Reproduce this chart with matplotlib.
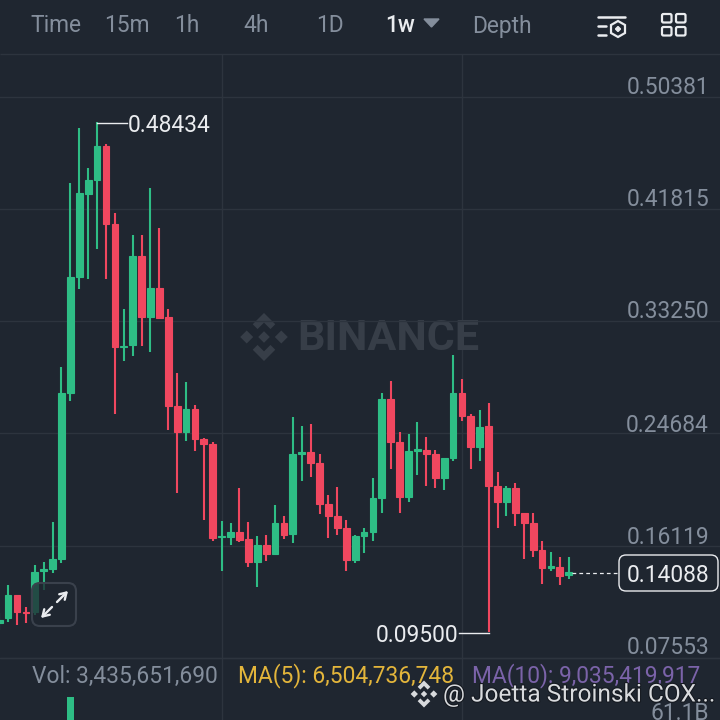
import matplotlib
matplotlib.use("Agg")
import matplotlib.pyplot as plt
from matplotlib.patches import FancyBboxPatch, Polygon
import matplotlib.patheffects as pe
import numpy as np

plt.rcParams['font.family'] = ['Roboto', 'DejaVu Sans']

open_ = [.1022,.1060,.1236,.1106,.1106,.1419,.1434,.1511,.2777,.3662,.4296,.4402,.4662,.4067,.3128,.3144,.3823,.3357,.3578,
         .3357,.2678,.2480,.2655,.2426,.2388,.1675,.1679,.1717,.1663,.1488,.1617,.1549,.1786,.1702,.2312,.2327,.2243,.1930,
         .1839,.1747,.1503,.1686,.1717,.1976,.2732,.2403,.1984,.2335,.2342,.2312,.2129,.2281,.2777,.2602,.2365,.2526,.2067,
         .1946,.2052,.1862,.1786,.1579,.1442,.1450,.1389]
high  = [.1099,.1312,.1236,.1144,.1465,.1488,.1793,.2976,.4380,.4799,.4494,.48434,.4677,.4151,.3418,.3983,.3983,.4341,.4036,
         .3418,.2931,.2861,.2686,.2434,.2403,.1801,.1786,.2052,.1793,.1686,.1694,.1923,.1839,.2594,.2526,.2541,.2312,.1999,
         .2060,.1808,.1694,.1747,.2129,.2777,.2869,.2480,.2465,.2556,.2441,.2342,.2281,.3067,.2884,.2617,.2648,.2701,.2174,
         .2067,.2090,.1862,.1862,.1648,.1564,.1526,.1526]
low   = [.0969,.1030,.1007,.1022,.1083,.1274,.1404,.1480,.2716,.3571,.3647,.3876,.3647,.2617,.3021,.3059,.3136,.3090,.3342,
         .2495,.2014,.2411,.2335,.1808,.1648,.1419,.1617,.1640,.1450,.1297,.1495,.1549,.1663,.1633,.2106,.2136,.1854,.1671,
         .1694,.1419,.1480,.1557,.1648,.1862,.2197,.1862,.1946,.2151,.2067,.2052,.2037,.2258,.2564,.2197,.2258,.0950,.1747,
         .1839,.1763,.1511,.1526,.1320,.1419,.1312,.1358]
close = [.1049,.1236,.1106,.1095,.1412,.1434,.1511,.2777,.3662,.4303,.4402,.4662,.4067,.3128,.3136,.3823,.3357,.3578,.3349,
         .2678,.2480,.2655,.2426,.2388,.1671,.1686,.1717,.1656,.1488,.1617,.1549,.1786,.1694,.2312,.2327,.2243,.1930,.1839,
         .1747,.1503,.1686,.1717,.1976,.2732,.2403,.1984,.2335,.2350,.2312,.2129,.2281,.2777,.2602,.2365,.2518,.2067,.1946,
         .2052,.1862,.1786,.1579,.1442,.1457,.1381,.14088]

price_ticks = [0.50381, 0.41815, 0.33250, 0.24684, 0.16119, 0.07553]
price_labels = ['0.50381', '0.41815', '0.33250', '0.24684', '0.16119', '0.07553']
highest, lowest, last = 0.48434, 0.09500, 0.14088
tabs = ['Time', '15m', '1h', '4h', '1D', '1w', 'Depth']
vol_value = [61.1]
vol_index = [8]

BG = '#1F2630'; GRID = '#2D343E'; GREEN = '#2EBD85'; RED = '#F0475F'
GRAY = '#848E9C'; WHITE = '#EAECEF'

fig = plt.figure(figsize=(7.2, 7.2), dpi=100, facecolor=BG)

# background layer: grid and watermark, in pixel coordinates
bg = fig.add_axes([0, 0, 1, 1], facecolor=BG)
bg.set_xlim(0, 720); bg.set_ylim(720, 0); bg.axis('off')
bg.hlines([54, 658], 0, 720, color=GRID, lw=1.0, zorder=1)
bg.vlines([222, 462], 54, 720, color=GRID, lw=1.0, zorder=1)

# price chart: full-figure axes with price scale
ax = fig.add_axes([0, 0, 1, 1], facecolor='none')
ax.set_xlim(0.09, 81.0)
ax.set_ylim(0.02822, 0.57758)
ax.axis('off')
for p in price_ticks:
    ax.axhline(p, color=GRID, lw=1.0, zorder=1)

x = np.arange(len(open_))
o, h, l, c = map(np.array, (open_, high, low, close))
cols = np.where(c >= o, GREEN, RED)
ax.vlines(x, l, h, colors=cols, lw=1.5, zorder=3)
ax.bar(x, np.abs(c - o), bottom=np.minimum(o, c), width=0.76, color=cols, edgecolor=cols, lw=0.8, zorder=3)

# volume strip
axv = fig.add_axes([0, 0, 1, 23 / 720], facecolor='none')
axv.set_xlim(0.09, 81.0)
axv.set_ylim(50, 61.1)
axv.axis('off')
axv.bar(vol_index, vol_value, width=0.76, color=GREEN)

# chrome in pixel coordinates
ui = fig.add_axes([0, 0, 1, 1], facecolor='none')
ui.set_xlim(0, 720); ui.set_ylim(720, 0); ui.axis('off')

FS = 16.4
tab_x = [56, 127, 187, 256, 330, 400, 502]
for t, tx in zip(tabs, tab_x):
    ui.text(tx, 26, t, color=WHITE if t == '1w' else GRAY, fontsize=FS,
            ha='center', va='center', weight='medium' if t == '1w' else 'normal')
ui.add_patch(Polygon([(424, 19), (439, 19), (431.5, 27)], color=GRAY))

# filter icon
ui.plot([598, 625], [17, 17], color=WHITE, lw=1.8, solid_capstyle='round')
ui.plot([598, 606], [26, 26], color=WHITE, lw=1.8, solid_capstyle='round')
ui.plot([598, 606], [35, 35], color=WHITE, lw=1.8, solid_capstyle='round')
ui.add_patch(Polygon([(618, 21), (625, 25), (625, 33), (618, 37), (611, 33), (611, 25)],
                     fill=False, edgecolor=WHITE, lw=1.6))
ui.add_patch(Polygon([(618, 26.5), (620.5, 29), (618, 31.5), (615.5, 29)], color=WHITE))
# grid icon
for gx in (662, 676):
    for gy in (14, 27):
        ui.add_patch(FancyBboxPatch((gx, gy), 9.5, 8.5, boxstyle='round,pad=0,rounding_size=1.5',
                                    fill=False, edgecolor=WHITE, lw=1.6))

# y labels
for p, lab, py in zip(price_ticks, price_labels, [88, 200, 312, 425, 537, 648]):
    ui.text(709, py, lab, color=GRAY, fontsize=FS, ha='right', va='center')

# watermark
def logo(target, cx, cy, r, color, z=2):
    chev = [(0, -1), (.47, -.53), (.27, -.33), (0, -.6), (-.27, -.33), (-.47, -.53)]
    for sy in (1, -1):
        target.add_patch(Polygon([(cx + r * a, cy + sy * r * b) for a, b in chev], color=color, lw=0, zorder=z))
    for dx in (-.72, 0, .72):
        s = .27 if dx else .24
        target.add_patch(Polygon([(cx + r * (dx - s), cy), (cx + r * dx, cy - r * s),
                                  (cx + r * (dx + s), cy), (cx + r * dx, cy + r * s)], color=color, lw=0, zorder=z))
logo(bg, 264, 337, 24, '#373E48')
bg.text(388, 339, 'BINANCE', color='#373E48', fontsize=31, weight='bold', ha='center', va='center', zorder=2)

# high / low markers
ui.plot([97, 127], [122.5, 122.5], color=WHITE, lw=1.0, zorder=4)
ui.text(128, 125.5, f'{highest:.5f}', color=WHITE, fontsize=FS, ha='left', va='center', zorder=5)
ui.plot([459, 489], [633, 633], color=WHITE, lw=1.0, zorder=4)
ui.text(458, 635.5, f'{lowest:.5f}', color=WHITE, fontsize=FS, ha='right', va='center', zorder=5)

# last price tag
ui.plot([572, 617], [573, 573], color=WHITE, lw=0.9, dashes=(3, 2.5), zorder=4)
ui.add_patch(FancyBboxPatch((619, 555), 99, 36, boxstyle='round,pad=0,rounding_size=7',
                            facecolor=BG, edgecolor=WHITE, lw=1.0, zorder=5))
ui.text(668.5, 575.5, f'{last:.5f}', color=WHITE, fontsize=FS, ha='center', va='center', zorder=6)

# expand button
ui.add_patch(FancyBboxPatch((32, 583), 44, 43, boxstyle='round,pad=0,rounding_size=8',
                            facecolor=(0.12, 0.15, 0.19, 0.75), edgecolor='#3A414C', lw=1.5, zorder=6))
arrow = dict(arrowstyle='->,head_width=0.28,head_length=0.45', color=WHITE, lw=1.7, shrinkA=0, shrinkB=0)
ui.annotate('', xy=(68, 591), xytext=(57, 602), arrowprops=arrow, zorder=7)
ui.annotate('', xy=(41, 618), xytext=(52, 607), arrowprops=arrow, zorder=7)

# legend row
ui.text(32, 676, 'Vol: 3,435,651,690', color=GRAY, fontsize=FS, ha='left', va='center')
ui.text(238, 676, 'MA(5): 6,504,736,748', color='#E3B53B', fontsize=FS, ha='left', va='center')
ui.text(472, 676, 'MA(10): 9,035,419,917', color='#7B63A9', fontsize=FS, ha='left', va='center')
ui.text(709, 713, '61.1B', color=GRAY, fontsize=FS, ha='right', va='center')

# attribution
shadow = [pe.withStroke(linewidth=1.5, foreground='#14181F')]
logo(ui, 424, 694, 13.5, '#D8DADD', z=8)
ui.text(443, 695, '@ Joetta Stroinski COX...', color='#D8DADD', fontsize=17.6, ha='left', va='center',
        zorder=8, path_effects=shadow)

fig.savefig('out.png', dpi=100, facecolor=BG)
